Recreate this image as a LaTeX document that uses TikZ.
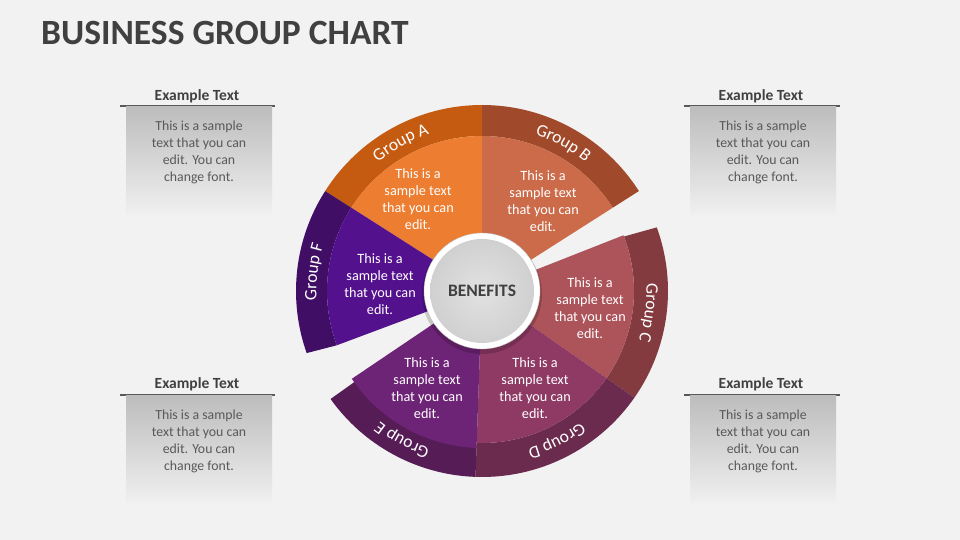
\documentclass[tikz,border=0pt]{standalone}
\usepackage{fontspec}
\setmainfont{Carlito}
\usepackage{tikz}
\usetikzlibrary{decorations.text}
\definecolor{bg}{HTML}{F2F2F2}
\definecolor{headgray}{HTML}{404040}
\definecolor{textgray}{HTML}{595959}
\definecolor{linegray}{HTML}{595959}
\definecolor{boxtop}{HTML}{BDBDBD}
\definecolor{boxbottom}{HTML}{F0F0F0}
\definecolor{discin}{HTML}{E2E2E2}
\definecolor{discout}{HTML}{D0D0D0}
\definecolor{secA}{HTML}{ED7D31}
\definecolor{bandA}{HTML}{C55A11}
\definecolor{secB}{HTML}{CC6B49}
\definecolor{bandB}{HTML}{A14A2B}
\definecolor{secC}{HTML}{AD535A}
\definecolor{bandC}{HTML}{833B40}
\definecolor{secD}{HTML}{8E3A65}
\definecolor{bandD}{HTML}{6B2B4E}
\definecolor{secE}{HTML}{6E2476}
\definecolor{bandE}{HTML}{561C56}
\definecolor{secF}{HTML}{54118D}
\definecolor{bandF}{HTML}{400E64}
\newcommand{\groupfont}{\fontsize{17.5}{20}\selectfont}

\begin{document}
\begin{tikzpicture}[x=1pt, y=1pt,
    sector text/.style={text=white, align=center, font=\fontsize{14.2}{17}\selectfont},
    head text/.style={text=headgray, font=\fontsize{15.5}{18}\selectfont\bfseries},
    box text/.style={text=textgray, align=center, font=\fontsize{13.8}{17}\selectfont},
    head line/.style={draw=linegray, line width=2pt},
    box fill/.style={top color=boxtop, bottom color=boxbottom},
    group label/.style={decorate, decoration={text along path, text align=center, text color=white}}]
    \fill[bg] (0,0) rectangle (960,540);
    \useasboundingbox (0,0) rectangle (960,540);
    \node[anchor=base west, inner sep=0pt, text=headgray, font=\fontsize{35.5}{40}\selectfont\bfseries] (title) at (41,495) {BUSINESS GROUP CHART};

    \begin{scope}[shift={(482,249)}]
        \fill[bandA] (90:186) arc[start angle=90, end angle=147.5, radius=186] -- (147.5:155) arc[start angle=147.5, end angle=90, radius=155] -- cycle;
        \fill[secA] (0,0) -- (90:155) arc[start angle=90, end angle=147.5, radius=155] -- cycle;
        \fill[bandB] (32.5:186) arc[start angle=32.5, end angle=90, radius=186] -- (90:155) arc[start angle=90, end angle=32.5, radius=155] -- cycle;
        \fill[secB] (0,0) -- (32.5:155) arc[start angle=32.5, end angle=90, radius=155] -- cycle;
        \fill[bandC] (-35:186) arc[start angle=-35, end angle=20, radius=186] -- (21:152) arc[start angle=21, end angle=-35, radius=152] -- cycle;
        \fill[secC] (0,0) -- (-35:152) arc[start angle=-35, end angle=21.5, radius=152] -- cycle;
        \fill[bandD] (-92:186) arc[start angle=-92, end angle=-35, radius=186] -- (-35:152) arc[start angle=-35, end angle=-92, radius=152] -- cycle;
        \fill[secD] (0,0) -- (-92:152) arc[start angle=-92, end angle=-35, radius=152] -- cycle;
        \fill[bandE] (-144.5:186) arc[start angle=-144.5, end angle=-92, radius=186] -- (-92:154) arc[start angle=-92, end angle=-144.5, radius=154] -- cycle;
        \fill[secE] (0,0) -- (-146:157) arc[start angle=-146, end angle=-92, radius=157] -- cycle;
        \fill[bandF] (147.5:186) arc[start angle=147.5, end angle=199.5, radius=186] -- (200.5:155) arc[start angle=200.5, end angle=147.5, radius=155] -- cycle;
        \fill[secF] (0,0) -- (147.5:155) arc[start angle=147.5, end angle=200.5, radius=155] -- cycle;

        \path[group label, decoration={text={|\groupfont|Group A}}] (147.5:165.5) arc[start angle=147.5, end angle=90, radius=165.5];
        \path[group label, decoration={text={|\groupfont|Group B}}] (90:165.5) arc[start angle=90, end angle=32.5, radius=165.5];
        \path[group label, decoration={text={|\groupfont|Group C}}] (20:164.5) arc[start angle=20, end angle=-35, radius=164.5];
        \path[group label, decoration={text={|\groupfont|Group D}}] (-35:164.5) arc[start angle=-35, end angle=-92, radius=164.5];
        \path[group label, decoration={text={|\groupfont|Group E}}] (-92:165.5) arc[start angle=-92, end angle=-144.5, radius=165.5];
        \path[group label, decoration={text={|\groupfont|Group F}}] (199.5:165.5) arc[start angle=199.5, end angle=147.5, radius=165.5];

        \node[sector text] (textA) at (-64,91.5) {This is a\\sample text\\that you can\\edit.};
        \node[sector text] (textB) at (61,89.5) {This is a\\sample text\\that you can\\edit.};
        \node[sector text] (textC) at (108,-17) {This is a\\sample text\\that you can\\edit.};
        \node[sector text] (textD) at (53,-97) {This is a\\sample text\\that you can\\edit.};
        \node[sector text] (textE) at (-55,-97) {This is a\\sample text\\that you can\\edit.};
        \node[sector text] (textF) at (-102,7) {This is a\\sample text\\that you can\\edit.};

        \fill[black, opacity=0.18] (0,-3) circle (60);
        \fill[white] (0,0) circle (58);
        \draw[black!25] (0,0) circle (58);
        \shade[inner color=discin, outer color=discout] (0,0) circle (52);
        \node[text=headgray, font=\fontsize{17.5}{20}\selectfont\bfseries] (benefits) at (0,0) {BENEFITS};
    \end{scope}

    \node[head text] (headTL) at (197,444) {Example Text};
    \draw[head line] (120,434) -- (275,434);
    \shade[box fill] (126,433) rectangle (272,325);
    \node[box text] (boxTL) at (199,388) {This is a sample\\text that you can\\edit. You can\\change font.};

    \node[head text] (headTR) at (761,444) {Example Text};
    \draw[head line] (684,434) -- (840,434);
    \shade[box fill] (690,433) rectangle (836,325);
    \node[box text] (boxTR) at (763,388) {This is a sample\\text that you can\\edit. You can\\change font.};

    \node[head text] (headBL) at (197,156) {Example Text};
    \draw[head line] (120,145) -- (275,145);
    \shade[box fill] (126,144) rectangle (272,37);
    \node[box text] (boxBL) at (199,99) {This is a sample\\text that you can\\edit. You can\\change font.};

    \node[head text] (headBR) at (761,156) {Example Text};
    \draw[head line] (684,145) -- (840,145);
    \shade[box fill] (690,144) rectangle (836,37);
    \node[box text] (boxBR) at (763,99) {This is a sample\\text that you can\\edit. You can\\change font.};
\end{tikzpicture}
\end{document}
